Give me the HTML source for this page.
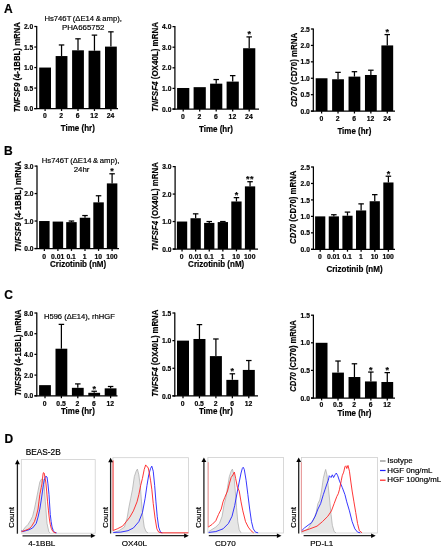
<!DOCTYPE html>
<html><head><meta charset="utf-8"><style>
html,body{margin:0;padding:0;background:#fff;}
svg{display:block;font-family:"Liberation Sans", Arial, sans-serif;}
text{stroke:#000;stroke-width:0.18px;paint-order:stroke;}
</style></head><body>
<svg width="444" height="550" viewBox="0 0 444 550">
<rect width="444" height="550" fill="#fff"/>
<text x="4.00" y="13.40" font-size="12" font-weight="bold" text-anchor="start">A</text>
<text x="83.20" y="20.90" font-size="7.7" text-anchor="middle" word-spacing="-0.6">Hs746T (ΔE14 &amp; amp),</text>
<text x="83.20" y="29.90" font-size="7.9" text-anchor="middle">PHA665752</text>
<rect x="39.20" y="67.55" width="11.80" height="41.05" fill="#000"/>
<rect x="55.65" y="56.06" width="11.80" height="52.54" fill="#000"/>
<line x1="61.55" y1="44.97" x2="61.55" y2="56.06" stroke="#000" stroke-width="1.25"/>
<line x1="58.80" y1="44.97" x2="64.30" y2="44.97" stroke="#000" stroke-width="1.25"/>
<rect x="72.10" y="50.31" width="11.80" height="58.29" fill="#000"/>
<line x1="78.00" y1="38.81" x2="78.00" y2="50.31" stroke="#000" stroke-width="1.25"/>
<line x1="75.25" y1="38.81" x2="80.75" y2="38.81" stroke="#000" stroke-width="1.25"/>
<rect x="88.55" y="50.72" width="11.80" height="57.88" fill="#000"/>
<line x1="94.45" y1="35.12" x2="94.45" y2="50.72" stroke="#000" stroke-width="1.25"/>
<line x1="91.70" y1="35.12" x2="97.20" y2="35.12" stroke="#000" stroke-width="1.25"/>
<rect x="105.00" y="46.61" width="11.80" height="61.99" fill="#000"/>
<line x1="110.90" y1="31.84" x2="110.90" y2="46.61" stroke="#000" stroke-width="1.25"/>
<line x1="108.15" y1="31.84" x2="113.65" y2="31.84" stroke="#000" stroke-width="1.25"/>
<line x1="36.70" y1="26.00" x2="36.70" y2="109.10" stroke="#000" stroke-width="1.25"/>
<line x1="34.30" y1="108.60" x2="118.00" y2="108.60" stroke="#000" stroke-width="1.25"/>
<line x1="34.30" y1="108.60" x2="36.70" y2="108.60" stroke="#000" stroke-width="1.25"/>
<text x="33.20" y="111.20" font-size="6.7" font-weight="bold" text-anchor="end">0.0</text>
<line x1="34.30" y1="88.07" x2="36.70" y2="88.07" stroke="#000" stroke-width="1.25"/>
<text x="33.20" y="90.67" font-size="6.7" font-weight="bold" text-anchor="end">0.5</text>
<line x1="34.30" y1="67.55" x2="36.70" y2="67.55" stroke="#000" stroke-width="1.25"/>
<text x="33.20" y="70.15" font-size="6.7" font-weight="bold" text-anchor="end">1.0</text>
<line x1="34.30" y1="47.02" x2="36.70" y2="47.02" stroke="#000" stroke-width="1.25"/>
<text x="33.20" y="49.62" font-size="6.7" font-weight="bold" text-anchor="end">1.5</text>
<line x1="34.30" y1="26.50" x2="36.70" y2="26.50" stroke="#000" stroke-width="1.25"/>
<text x="33.20" y="29.10" font-size="6.7" font-weight="bold" text-anchor="end">2.0</text>
<line x1="45.10" y1="108.60" x2="45.10" y2="111.00" stroke="#000" stroke-width="1.25"/>
<text x="44.80" y="118.10" font-size="6.8" font-weight="bold" text-anchor="middle">0</text>
<line x1="61.55" y1="108.60" x2="61.55" y2="111.00" stroke="#000" stroke-width="1.25"/>
<text x="61.25" y="118.10" font-size="6.8" font-weight="bold" text-anchor="middle">2</text>
<line x1="78.00" y1="108.60" x2="78.00" y2="111.00" stroke="#000" stroke-width="1.25"/>
<text x="77.70" y="118.10" font-size="6.8" font-weight="bold" text-anchor="middle">6</text>
<line x1="94.45" y1="108.60" x2="94.45" y2="111.00" stroke="#000" stroke-width="1.25"/>
<text x="94.15" y="118.10" font-size="6.8" font-weight="bold" text-anchor="middle">12</text>
<line x1="110.90" y1="108.60" x2="110.90" y2="111.00" stroke="#000" stroke-width="1.25"/>
<text x="110.60" y="118.10" font-size="6.8" font-weight="bold" text-anchor="middle">24</text>
<text x="77.80" y="130.70" font-size="8.4" font-weight="bold" text-anchor="middle" textLength="34.0" lengthAdjust="spacingAndGlyphs">Time (hr)</text>
<text transform="translate(19.70,67.15) rotate(-90)" font-size="8.3" font-weight="bold" text-anchor="middle" textLength="90.3" lengthAdjust="spacingAndGlyphs"><tspan font-style="italic">TNFSF9</tspan> (4-1BBL) mRNA</text>
<rect x="177.10" y="87.99" width="12.20" height="21.01" fill="#000"/>
<rect x="193.60" y="87.16" width="12.20" height="21.84" fill="#000"/>
<rect x="210.10" y="83.66" width="12.20" height="25.34" fill="#000"/>
<line x1="216.20" y1="79.54" x2="216.20" y2="83.66" stroke="#000" stroke-width="1.25"/>
<line x1="213.45" y1="79.54" x2="218.95" y2="79.54" stroke="#000" stroke-width="1.25"/>
<rect x="226.60" y="81.60" width="12.20" height="27.40" fill="#000"/>
<line x1="232.70" y1="75.63" x2="232.70" y2="81.60" stroke="#000" stroke-width="1.25"/>
<line x1="229.95" y1="75.63" x2="235.45" y2="75.63" stroke="#000" stroke-width="1.25"/>
<rect x="243.10" y="48.23" width="12.20" height="60.77" fill="#000"/>
<line x1="249.20" y1="36.90" x2="249.20" y2="48.23" stroke="#000" stroke-width="1.25"/>
<line x1="246.45" y1="36.90" x2="251.95" y2="36.90" stroke="#000" stroke-width="1.25"/>
<text x="249.20" y="37.40" font-size="9" font-weight="bold" text-anchor="middle">*</text>
<line x1="174.90" y1="26.10" x2="174.90" y2="109.50" stroke="#000" stroke-width="1.25"/>
<line x1="172.50" y1="109.00" x2="259.00" y2="109.00" stroke="#000" stroke-width="1.25"/>
<line x1="172.50" y1="109.00" x2="174.90" y2="109.00" stroke="#000" stroke-width="1.25"/>
<text x="171.40" y="111.60" font-size="6.7" font-weight="bold" text-anchor="end">0.0</text>
<line x1="172.50" y1="88.40" x2="174.90" y2="88.40" stroke="#000" stroke-width="1.25"/>
<text x="171.40" y="91.00" font-size="6.7" font-weight="bold" text-anchor="end">1.0</text>
<line x1="172.50" y1="67.80" x2="174.90" y2="67.80" stroke="#000" stroke-width="1.25"/>
<text x="171.40" y="70.40" font-size="6.7" font-weight="bold" text-anchor="end">2.0</text>
<line x1="172.50" y1="47.20" x2="174.90" y2="47.20" stroke="#000" stroke-width="1.25"/>
<text x="171.40" y="49.80" font-size="6.7" font-weight="bold" text-anchor="end">3.0</text>
<line x1="172.50" y1="26.60" x2="174.90" y2="26.60" stroke="#000" stroke-width="1.25"/>
<text x="171.40" y="29.20" font-size="6.7" font-weight="bold" text-anchor="end">4.0</text>
<line x1="183.20" y1="109.00" x2="183.20" y2="111.40" stroke="#000" stroke-width="1.25"/>
<text x="182.90" y="118.50" font-size="6.8" font-weight="bold" text-anchor="middle">0</text>
<line x1="199.70" y1="109.00" x2="199.70" y2="111.40" stroke="#000" stroke-width="1.25"/>
<text x="199.40" y="118.50" font-size="6.8" font-weight="bold" text-anchor="middle">2</text>
<line x1="216.20" y1="109.00" x2="216.20" y2="111.40" stroke="#000" stroke-width="1.25"/>
<text x="215.90" y="118.50" font-size="6.8" font-weight="bold" text-anchor="middle">6</text>
<line x1="232.70" y1="109.00" x2="232.70" y2="111.40" stroke="#000" stroke-width="1.25"/>
<text x="232.40" y="118.50" font-size="6.8" font-weight="bold" text-anchor="middle">12</text>
<line x1="249.20" y1="109.00" x2="249.20" y2="111.40" stroke="#000" stroke-width="1.25"/>
<text x="248.90" y="118.50" font-size="6.8" font-weight="bold" text-anchor="middle">24</text>
<text x="216.00" y="131.60" font-size="8.4" font-weight="bold" text-anchor="middle" textLength="34.0" lengthAdjust="spacingAndGlyphs">Time (hr)</text>
<text transform="translate(158.30,66.85) rotate(-90)" font-size="8.3" font-weight="bold" text-anchor="middle" textLength="89.7" lengthAdjust="spacingAndGlyphs"><tspan font-style="italic">TNFSF4</tspan> (OX40L) mRNA</text>
<rect x="315.70" y="78.26" width="11.80" height="32.84" fill="#000"/>
<rect x="332.12" y="79.25" width="11.80" height="31.85" fill="#000"/>
<line x1="338.02" y1="72.35" x2="338.02" y2="79.25" stroke="#000" stroke-width="1.25"/>
<line x1="335.27" y1="72.35" x2="340.77" y2="72.35" stroke="#000" stroke-width="1.25"/>
<rect x="348.54" y="76.62" width="11.80" height="34.48" fill="#000"/>
<line x1="354.44" y1="71.69" x2="354.44" y2="76.62" stroke="#000" stroke-width="1.25"/>
<line x1="351.69" y1="71.69" x2="357.19" y2="71.69" stroke="#000" stroke-width="1.25"/>
<rect x="364.96" y="74.98" width="11.80" height="36.12" fill="#000"/>
<line x1="370.86" y1="70.21" x2="370.86" y2="74.98" stroke="#000" stroke-width="1.25"/>
<line x1="368.11" y1="70.21" x2="373.61" y2="70.21" stroke="#000" stroke-width="1.25"/>
<rect x="381.38" y="45.42" width="11.80" height="65.68" fill="#000"/>
<line x1="387.28" y1="34.58" x2="387.28" y2="45.42" stroke="#000" stroke-width="1.25"/>
<line x1="384.53" y1="34.58" x2="390.03" y2="34.58" stroke="#000" stroke-width="1.25"/>
<text x="387.28" y="35.08" font-size="9" font-weight="bold" text-anchor="middle">*</text>
<line x1="313.30" y1="28.50" x2="313.30" y2="111.60" stroke="#000" stroke-width="1.25"/>
<line x1="310.90" y1="111.10" x2="395.00" y2="111.10" stroke="#000" stroke-width="1.25"/>
<line x1="310.90" y1="111.10" x2="313.30" y2="111.10" stroke="#000" stroke-width="1.25"/>
<text x="309.80" y="113.70" font-size="6.7" font-weight="bold" text-anchor="end">0.0</text>
<line x1="310.90" y1="94.68" x2="313.30" y2="94.68" stroke="#000" stroke-width="1.25"/>
<text x="309.80" y="97.28" font-size="6.7" font-weight="bold" text-anchor="end">0.5</text>
<line x1="310.90" y1="78.26" x2="313.30" y2="78.26" stroke="#000" stroke-width="1.25"/>
<text x="309.80" y="80.86" font-size="6.7" font-weight="bold" text-anchor="end">1.0</text>
<line x1="310.90" y1="61.84" x2="313.30" y2="61.84" stroke="#000" stroke-width="1.25"/>
<text x="309.80" y="64.44" font-size="6.7" font-weight="bold" text-anchor="end">1.5</text>
<line x1="310.90" y1="45.42" x2="313.30" y2="45.42" stroke="#000" stroke-width="1.25"/>
<text x="309.80" y="48.02" font-size="6.7" font-weight="bold" text-anchor="end">2.0</text>
<line x1="310.90" y1="29.00" x2="313.30" y2="29.00" stroke="#000" stroke-width="1.25"/>
<text x="309.80" y="31.60" font-size="6.7" font-weight="bold" text-anchor="end">2.5</text>
<line x1="321.60" y1="111.10" x2="321.60" y2="113.50" stroke="#000" stroke-width="1.25"/>
<text x="321.30" y="120.60" font-size="6.8" font-weight="bold" text-anchor="middle">0</text>
<line x1="338.02" y1="111.10" x2="338.02" y2="113.50" stroke="#000" stroke-width="1.25"/>
<text x="337.72" y="120.60" font-size="6.8" font-weight="bold" text-anchor="middle">2</text>
<line x1="354.44" y1="111.10" x2="354.44" y2="113.50" stroke="#000" stroke-width="1.25"/>
<text x="354.14" y="120.60" font-size="6.8" font-weight="bold" text-anchor="middle">6</text>
<line x1="370.86" y1="111.10" x2="370.86" y2="113.50" stroke="#000" stroke-width="1.25"/>
<text x="370.56" y="120.60" font-size="6.8" font-weight="bold" text-anchor="middle">12</text>
<line x1="387.28" y1="111.10" x2="387.28" y2="113.50" stroke="#000" stroke-width="1.25"/>
<text x="386.98" y="120.60" font-size="6.8" font-weight="bold" text-anchor="middle">24</text>
<text x="354.40" y="133.50" font-size="8.4" font-weight="bold" text-anchor="middle" textLength="34.0" lengthAdjust="spacingAndGlyphs">Time (hr)</text>
<text transform="translate(296.60,70.00) rotate(-90)" font-size="8.3" font-weight="bold" text-anchor="middle" textLength="74.2" lengthAdjust="spacingAndGlyphs"><tspan font-style="italic">CD70</tspan> (CD70) mRNA</text>
<text x="4.00" y="154.70" font-size="12" font-weight="bold" text-anchor="start">B</text>
<text x="80.60" y="163.20" font-size="7.7" text-anchor="middle" word-spacing="-0.6">Hs746T (ΔE14 &amp; amp),</text>
<text x="81.60" y="172.30" font-size="7.9" text-anchor="middle">24hr</text>
<rect x="39.10" y="221.03" width="10.50" height="27.47" fill="#000"/>
<rect x="52.65" y="221.58" width="10.50" height="26.92" fill="#000"/>
<rect x="66.20" y="222.13" width="10.50" height="26.37" fill="#000"/>
<line x1="71.45" y1="221.03" x2="71.45" y2="222.13" stroke="#000" stroke-width="1.25"/>
<line x1="68.70" y1="221.03" x2="74.20" y2="221.03" stroke="#000" stroke-width="1.25"/>
<rect x="79.75" y="217.74" width="10.50" height="30.76" fill="#000"/>
<line x1="85.00" y1="215.54" x2="85.00" y2="217.74" stroke="#000" stroke-width="1.25"/>
<line x1="82.25" y1="215.54" x2="87.75" y2="215.54" stroke="#000" stroke-width="1.25"/>
<rect x="93.30" y="202.36" width="10.50" height="46.14" fill="#000"/>
<line x1="98.55" y1="195.76" x2="98.55" y2="202.36" stroke="#000" stroke-width="1.25"/>
<line x1="95.80" y1="195.76" x2="101.30" y2="195.76" stroke="#000" stroke-width="1.25"/>
<rect x="106.85" y="183.40" width="10.50" height="65.10" fill="#000"/>
<line x1="112.10" y1="173.79" x2="112.10" y2="183.40" stroke="#000" stroke-width="1.25"/>
<line x1="109.35" y1="173.79" x2="114.85" y2="173.79" stroke="#000" stroke-width="1.25"/>
<text x="112.10" y="174.29" font-size="9" font-weight="bold" text-anchor="middle">*</text>
<line x1="37.00" y1="165.60" x2="37.00" y2="249.00" stroke="#000" stroke-width="1.25"/>
<line x1="34.60" y1="248.50" x2="119.00" y2="248.50" stroke="#000" stroke-width="1.25"/>
<line x1="34.60" y1="248.50" x2="37.00" y2="248.50" stroke="#000" stroke-width="1.25"/>
<text x="33.50" y="251.10" font-size="6.7" font-weight="bold" text-anchor="end">0.0</text>
<line x1="34.60" y1="221.03" x2="37.00" y2="221.03" stroke="#000" stroke-width="1.25"/>
<text x="33.50" y="223.63" font-size="6.7" font-weight="bold" text-anchor="end">1.0</text>
<line x1="34.60" y1="193.57" x2="37.00" y2="193.57" stroke="#000" stroke-width="1.25"/>
<text x="33.50" y="196.17" font-size="6.7" font-weight="bold" text-anchor="end">2.0</text>
<line x1="34.60" y1="166.10" x2="37.00" y2="166.10" stroke="#000" stroke-width="1.25"/>
<text x="33.50" y="168.70" font-size="6.7" font-weight="bold" text-anchor="end">3.0</text>
<line x1="44.35" y1="248.50" x2="44.35" y2="250.90" stroke="#000" stroke-width="1.25"/>
<text x="44.05" y="258.70" font-size="6.8" font-weight="bold" text-anchor="middle">0</text>
<line x1="57.90" y1="248.50" x2="57.90" y2="250.90" stroke="#000" stroke-width="1.25"/>
<text x="57.60" y="258.70" font-size="6.8" font-weight="bold" text-anchor="middle">0.01</text>
<line x1="71.45" y1="248.50" x2="71.45" y2="250.90" stroke="#000" stroke-width="1.25"/>
<text x="71.15" y="258.70" font-size="6.8" font-weight="bold" text-anchor="middle">0.1</text>
<line x1="85.00" y1="248.50" x2="85.00" y2="250.90" stroke="#000" stroke-width="1.25"/>
<text x="84.70" y="258.70" font-size="6.8" font-weight="bold" text-anchor="middle">1</text>
<line x1="98.55" y1="248.50" x2="98.55" y2="250.90" stroke="#000" stroke-width="1.25"/>
<text x="98.25" y="258.70" font-size="6.8" font-weight="bold" text-anchor="middle">10</text>
<line x1="112.10" y1="248.50" x2="112.10" y2="250.90" stroke="#000" stroke-width="1.25"/>
<text x="111.80" y="258.70" font-size="6.8" font-weight="bold" text-anchor="middle">100</text>
<text x="78.10" y="266.50" font-size="8.4" font-weight="bold" text-anchor="middle" textLength="56.2" lengthAdjust="spacingAndGlyphs">Crizotinib (nM)</text>
<text transform="translate(21.00,206.40) rotate(-90)" font-size="8.3" font-weight="bold" text-anchor="middle" textLength="90.6" lengthAdjust="spacingAndGlyphs"><tspan font-style="italic">TNFSF9</tspan> (4-1BBL) mRNA</text>
<rect x="176.90" y="221.53" width="10.30" height="27.47" fill="#000"/>
<rect x="190.50" y="218.24" width="10.30" height="30.76" fill="#000"/>
<line x1="195.65" y1="213.84" x2="195.65" y2="218.24" stroke="#000" stroke-width="1.25"/>
<line x1="192.90" y1="213.84" x2="198.40" y2="213.84" stroke="#000" stroke-width="1.25"/>
<rect x="204.10" y="222.91" width="10.30" height="26.09" fill="#000"/>
<line x1="209.25" y1="221.53" x2="209.25" y2="222.91" stroke="#000" stroke-width="1.25"/>
<line x1="206.50" y1="221.53" x2="212.00" y2="221.53" stroke="#000" stroke-width="1.25"/>
<rect x="217.70" y="222.08" width="10.30" height="26.92" fill="#000"/>
<line x1="222.85" y1="221.53" x2="222.85" y2="222.08" stroke="#000" stroke-width="1.25"/>
<line x1="220.10" y1="221.53" x2="225.60" y2="221.53" stroke="#000" stroke-width="1.25"/>
<rect x="231.30" y="201.48" width="10.30" height="47.52" fill="#000"/>
<line x1="236.45" y1="197.64" x2="236.45" y2="201.48" stroke="#000" stroke-width="1.25"/>
<line x1="233.70" y1="197.64" x2="239.20" y2="197.64" stroke="#000" stroke-width="1.25"/>
<text x="236.45" y="198.14" font-size="9" font-weight="bold" text-anchor="middle">*</text>
<rect x="244.90" y="186.38" width="10.30" height="62.62" fill="#000"/>
<line x1="250.05" y1="181.71" x2="250.05" y2="186.38" stroke="#000" stroke-width="1.25"/>
<line x1="247.30" y1="181.71" x2="252.80" y2="181.71" stroke="#000" stroke-width="1.25"/>
<text x="250.05" y="182.21" font-size="9" font-weight="bold" text-anchor="middle" letter-spacing="0.6">**</text>
<line x1="175.10" y1="166.10" x2="175.10" y2="249.50" stroke="#000" stroke-width="1.25"/>
<line x1="172.70" y1="249.00" x2="258.00" y2="249.00" stroke="#000" stroke-width="1.25"/>
<line x1="172.70" y1="249.00" x2="175.10" y2="249.00" stroke="#000" stroke-width="1.25"/>
<text x="171.60" y="251.60" font-size="6.7" font-weight="bold" text-anchor="end">0.0</text>
<line x1="172.70" y1="221.53" x2="175.10" y2="221.53" stroke="#000" stroke-width="1.25"/>
<text x="171.60" y="224.13" font-size="6.7" font-weight="bold" text-anchor="end">1.0</text>
<line x1="172.70" y1="194.07" x2="175.10" y2="194.07" stroke="#000" stroke-width="1.25"/>
<text x="171.60" y="196.67" font-size="6.7" font-weight="bold" text-anchor="end">2.0</text>
<line x1="172.70" y1="166.60" x2="175.10" y2="166.60" stroke="#000" stroke-width="1.25"/>
<text x="171.60" y="169.20" font-size="6.7" font-weight="bold" text-anchor="end">3.0</text>
<line x1="182.05" y1="249.00" x2="182.05" y2="251.40" stroke="#000" stroke-width="1.25"/>
<text x="181.75" y="258.70" font-size="6.8" font-weight="bold" text-anchor="middle">0</text>
<line x1="195.65" y1="249.00" x2="195.65" y2="251.40" stroke="#000" stroke-width="1.25"/>
<text x="195.35" y="258.70" font-size="6.8" font-weight="bold" text-anchor="middle">0.01</text>
<line x1="209.25" y1="249.00" x2="209.25" y2="251.40" stroke="#000" stroke-width="1.25"/>
<text x="208.95" y="258.70" font-size="6.8" font-weight="bold" text-anchor="middle">0.1</text>
<line x1="222.85" y1="249.00" x2="222.85" y2="251.40" stroke="#000" stroke-width="1.25"/>
<text x="222.55" y="258.70" font-size="6.8" font-weight="bold" text-anchor="middle">1</text>
<line x1="236.45" y1="249.00" x2="236.45" y2="251.40" stroke="#000" stroke-width="1.25"/>
<text x="236.15" y="258.70" font-size="6.8" font-weight="bold" text-anchor="middle">10</text>
<line x1="250.05" y1="249.00" x2="250.05" y2="251.40" stroke="#000" stroke-width="1.25"/>
<text x="249.75" y="258.70" font-size="6.8" font-weight="bold" text-anchor="middle">100</text>
<text x="216.20" y="266.70" font-size="8.4" font-weight="bold" text-anchor="middle" textLength="56.2" lengthAdjust="spacingAndGlyphs">Crizotinib (nM)</text>
<text transform="translate(158.30,206.40) rotate(-90)" font-size="8.3" font-weight="bold" text-anchor="middle" textLength="88.8" lengthAdjust="spacingAndGlyphs"><tspan font-style="italic">TNFSF4</tspan> (OX40L) mRNA</text>
<rect x="315.10" y="216.38" width="10.20" height="32.92" fill="#000"/>
<rect x="328.74" y="216.38" width="10.20" height="32.92" fill="#000"/>
<line x1="333.84" y1="214.73" x2="333.84" y2="216.38" stroke="#000" stroke-width="1.25"/>
<line x1="331.09" y1="214.73" x2="336.59" y2="214.73" stroke="#000" stroke-width="1.25"/>
<rect x="342.38" y="215.72" width="10.20" height="33.58" fill="#000"/>
<line x1="347.48" y1="212.10" x2="347.48" y2="215.72" stroke="#000" stroke-width="1.25"/>
<line x1="344.73" y1="212.10" x2="350.23" y2="212.10" stroke="#000" stroke-width="1.25"/>
<rect x="356.02" y="210.45" width="10.20" height="38.85" fill="#000"/>
<line x1="361.12" y1="203.87" x2="361.12" y2="210.45" stroke="#000" stroke-width="1.25"/>
<line x1="358.37" y1="203.87" x2="363.87" y2="203.87" stroke="#000" stroke-width="1.25"/>
<rect x="369.66" y="201.24" width="10.20" height="48.06" fill="#000"/>
<line x1="374.76" y1="194.65" x2="374.76" y2="201.24" stroke="#000" stroke-width="1.25"/>
<line x1="372.01" y1="194.65" x2="377.51" y2="194.65" stroke="#000" stroke-width="1.25"/>
<rect x="383.30" y="182.47" width="10.20" height="66.83" fill="#000"/>
<line x1="388.40" y1="176.22" x2="388.40" y2="182.47" stroke="#000" stroke-width="1.25"/>
<line x1="385.65" y1="176.22" x2="391.15" y2="176.22" stroke="#000" stroke-width="1.25"/>
<text x="388.40" y="176.72" font-size="9" font-weight="bold" text-anchor="middle">*</text>
<line x1="313.40" y1="166.50" x2="313.40" y2="249.80" stroke="#000" stroke-width="1.25"/>
<line x1="311.00" y1="249.30" x2="395.00" y2="249.30" stroke="#000" stroke-width="1.25"/>
<line x1="311.00" y1="249.30" x2="313.40" y2="249.30" stroke="#000" stroke-width="1.25"/>
<text x="309.90" y="251.90" font-size="6.7" font-weight="bold" text-anchor="end">0.0</text>
<line x1="311.00" y1="232.84" x2="313.40" y2="232.84" stroke="#000" stroke-width="1.25"/>
<text x="309.90" y="235.44" font-size="6.7" font-weight="bold" text-anchor="end">0.5</text>
<line x1="311.00" y1="216.38" x2="313.40" y2="216.38" stroke="#000" stroke-width="1.25"/>
<text x="309.90" y="218.98" font-size="6.7" font-weight="bold" text-anchor="end">1.0</text>
<line x1="311.00" y1="199.92" x2="313.40" y2="199.92" stroke="#000" stroke-width="1.25"/>
<text x="309.90" y="202.52" font-size="6.7" font-weight="bold" text-anchor="end">1.5</text>
<line x1="311.00" y1="183.46" x2="313.40" y2="183.46" stroke="#000" stroke-width="1.25"/>
<text x="309.90" y="186.06" font-size="6.7" font-weight="bold" text-anchor="end">2.0</text>
<line x1="311.00" y1="167.00" x2="313.40" y2="167.00" stroke="#000" stroke-width="1.25"/>
<text x="309.90" y="169.60" font-size="6.7" font-weight="bold" text-anchor="end">2.5</text>
<line x1="320.20" y1="249.30" x2="320.20" y2="251.70" stroke="#000" stroke-width="1.25"/>
<text x="319.90" y="259.10" font-size="6.8" font-weight="bold" text-anchor="middle">0</text>
<line x1="333.84" y1="249.30" x2="333.84" y2="251.70" stroke="#000" stroke-width="1.25"/>
<text x="333.54" y="259.10" font-size="6.8" font-weight="bold" text-anchor="middle">0.01</text>
<line x1="347.48" y1="249.30" x2="347.48" y2="251.70" stroke="#000" stroke-width="1.25"/>
<text x="347.18" y="259.10" font-size="6.8" font-weight="bold" text-anchor="middle">0.1</text>
<line x1="361.12" y1="249.30" x2="361.12" y2="251.70" stroke="#000" stroke-width="1.25"/>
<text x="360.82" y="259.10" font-size="6.8" font-weight="bold" text-anchor="middle">1</text>
<line x1="374.76" y1="249.30" x2="374.76" y2="251.70" stroke="#000" stroke-width="1.25"/>
<text x="374.46" y="259.10" font-size="6.8" font-weight="bold" text-anchor="middle">10</text>
<line x1="388.40" y1="249.30" x2="388.40" y2="251.70" stroke="#000" stroke-width="1.25"/>
<text x="388.10" y="259.10" font-size="6.8" font-weight="bold" text-anchor="middle">100</text>
<text x="354.50" y="271.60" font-size="8.4" font-weight="bold" text-anchor="middle" textLength="56.2" lengthAdjust="spacingAndGlyphs">Crizotinib (nM)</text>
<text transform="translate(296.30,207.25) rotate(-90)" font-size="8.3" font-weight="bold" text-anchor="middle" textLength="73.3" lengthAdjust="spacingAndGlyphs"><tspan font-style="italic">CD70</tspan> (CD70) mRNA</text>
<text x="4.20" y="299.10" font-size="12" font-weight="bold" text-anchor="start">C</text>
<text x="79.40" y="319.30" font-size="7.6" text-anchor="middle">H596 (ΔE14), rhHGF</text>
<rect x="39.10" y="385.14" width="11.80" height="10.66" fill="#000"/>
<rect x="55.50" y="348.71" width="11.80" height="47.09" fill="#000"/>
<line x1="61.40" y1="324.38" x2="61.40" y2="348.71" stroke="#000" stroke-width="1.25"/>
<line x1="58.65" y1="324.38" x2="64.15" y2="324.38" stroke="#000" stroke-width="1.25"/>
<rect x="71.90" y="387.83" width="11.80" height="7.97" fill="#000"/>
<line x1="77.80" y1="383.90" x2="77.80" y2="387.83" stroke="#000" stroke-width="1.25"/>
<line x1="75.05" y1="383.90" x2="80.55" y2="383.90" stroke="#000" stroke-width="1.25"/>
<rect x="88.30" y="392.80" width="11.80" height="3.00" fill="#000"/>
<line x1="94.20" y1="391.25" x2="94.20" y2="392.80" stroke="#000" stroke-width="1.25"/>
<line x1="91.45" y1="391.25" x2="96.95" y2="391.25" stroke="#000" stroke-width="1.25"/>
<text x="94.20" y="391.75" font-size="9" font-weight="bold" text-anchor="middle">*</text>
<rect x="104.70" y="388.35" width="11.80" height="7.45" fill="#000"/>
<line x1="110.60" y1="386.49" x2="110.60" y2="388.35" stroke="#000" stroke-width="1.25"/>
<line x1="107.85" y1="386.49" x2="113.35" y2="386.49" stroke="#000" stroke-width="1.25"/>
<line x1="36.80" y1="312.50" x2="36.80" y2="396.30" stroke="#000" stroke-width="1.25"/>
<line x1="34.40" y1="395.80" x2="117.50" y2="395.80" stroke="#000" stroke-width="1.25"/>
<line x1="34.40" y1="395.80" x2="36.80" y2="395.80" stroke="#000" stroke-width="1.25"/>
<text x="33.30" y="398.40" font-size="6.7" font-weight="bold" text-anchor="end">0.0</text>
<line x1="34.40" y1="375.10" x2="36.80" y2="375.10" stroke="#000" stroke-width="1.25"/>
<text x="33.30" y="377.70" font-size="6.7" font-weight="bold" text-anchor="end">2.0</text>
<line x1="34.40" y1="354.40" x2="36.80" y2="354.40" stroke="#000" stroke-width="1.25"/>
<text x="33.30" y="357.00" font-size="6.7" font-weight="bold" text-anchor="end">4.0</text>
<line x1="34.40" y1="333.70" x2="36.80" y2="333.70" stroke="#000" stroke-width="1.25"/>
<text x="33.30" y="336.30" font-size="6.7" font-weight="bold" text-anchor="end">6.0</text>
<line x1="34.40" y1="313.00" x2="36.80" y2="313.00" stroke="#000" stroke-width="1.25"/>
<text x="33.30" y="315.60" font-size="6.7" font-weight="bold" text-anchor="end">8.0</text>
<line x1="45.00" y1="395.80" x2="45.00" y2="398.20" stroke="#000" stroke-width="1.25"/>
<text x="44.70" y="406.00" font-size="6.8" font-weight="bold" text-anchor="middle">0</text>
<line x1="61.40" y1="395.80" x2="61.40" y2="398.20" stroke="#000" stroke-width="1.25"/>
<text x="61.10" y="406.00" font-size="6.8" font-weight="bold" text-anchor="middle">0.5</text>
<line x1="77.80" y1="395.80" x2="77.80" y2="398.20" stroke="#000" stroke-width="1.25"/>
<text x="77.50" y="406.00" font-size="6.8" font-weight="bold" text-anchor="middle">2</text>
<line x1="94.20" y1="395.80" x2="94.20" y2="398.20" stroke="#000" stroke-width="1.25"/>
<text x="93.90" y="406.00" font-size="6.8" font-weight="bold" text-anchor="middle">6</text>
<line x1="110.60" y1="395.80" x2="110.60" y2="398.20" stroke="#000" stroke-width="1.25"/>
<text x="110.30" y="406.00" font-size="6.8" font-weight="bold" text-anchor="middle">12</text>
<text x="77.90" y="413.80" font-size="8.4" font-weight="bold" text-anchor="middle" textLength="34.0" lengthAdjust="spacingAndGlyphs">Time (hr)</text>
<text transform="translate(21.10,352.75) rotate(-90)" font-size="8.3" font-weight="bold" text-anchor="middle" textLength="86.1" lengthAdjust="spacingAndGlyphs"><tspan font-style="italic">TNFSF9</tspan> (4-1BBL) mRNA</text>
<rect x="177.00" y="340.63" width="12.00" height="55.27" fill="#000"/>
<rect x="193.45" y="338.98" width="12.00" height="56.92" fill="#000"/>
<line x1="199.45" y1="324.61" x2="199.45" y2="338.98" stroke="#000" stroke-width="1.25"/>
<line x1="196.70" y1="324.61" x2="202.20" y2="324.61" stroke="#000" stroke-width="1.25"/>
<rect x="209.90" y="356.11" width="12.00" height="39.79" fill="#000"/>
<line x1="215.90" y1="338.98" x2="215.90" y2="356.11" stroke="#000" stroke-width="1.25"/>
<line x1="213.15" y1="338.98" x2="218.65" y2="338.98" stroke="#000" stroke-width="1.25"/>
<rect x="226.35" y="379.87" width="12.00" height="16.03" fill="#000"/>
<line x1="232.35" y1="373.79" x2="232.35" y2="379.87" stroke="#000" stroke-width="1.25"/>
<line x1="229.60" y1="373.79" x2="235.10" y2="373.79" stroke="#000" stroke-width="1.25"/>
<text x="232.35" y="374.29" font-size="9" font-weight="bold" text-anchor="middle">*</text>
<rect x="242.80" y="369.92" width="12.00" height="25.98" fill="#000"/>
<line x1="248.80" y1="360.53" x2="248.80" y2="369.92" stroke="#000" stroke-width="1.25"/>
<line x1="246.05" y1="360.53" x2="251.55" y2="360.53" stroke="#000" stroke-width="1.25"/>
<line x1="174.80" y1="312.50" x2="174.80" y2="396.40" stroke="#000" stroke-width="1.25"/>
<line x1="172.40" y1="395.90" x2="258.00" y2="395.90" stroke="#000" stroke-width="1.25"/>
<line x1="172.40" y1="395.90" x2="174.80" y2="395.90" stroke="#000" stroke-width="1.25"/>
<text x="171.30" y="398.50" font-size="6.7" font-weight="bold" text-anchor="end">0.0</text>
<line x1="172.40" y1="368.27" x2="174.80" y2="368.27" stroke="#000" stroke-width="1.25"/>
<text x="171.30" y="370.87" font-size="6.7" font-weight="bold" text-anchor="end">0.5</text>
<line x1="172.40" y1="340.63" x2="174.80" y2="340.63" stroke="#000" stroke-width="1.25"/>
<text x="171.30" y="343.23" font-size="6.7" font-weight="bold" text-anchor="end">1.0</text>
<line x1="172.40" y1="313.00" x2="174.80" y2="313.00" stroke="#000" stroke-width="1.25"/>
<text x="171.30" y="315.60" font-size="6.7" font-weight="bold" text-anchor="end">1.5</text>
<line x1="183.00" y1="395.90" x2="183.00" y2="398.30" stroke="#000" stroke-width="1.25"/>
<text x="182.70" y="405.70" font-size="6.8" font-weight="bold" text-anchor="middle">0</text>
<line x1="199.45" y1="395.90" x2="199.45" y2="398.30" stroke="#000" stroke-width="1.25"/>
<text x="199.15" y="405.70" font-size="6.8" font-weight="bold" text-anchor="middle">0.5</text>
<line x1="215.90" y1="395.90" x2="215.90" y2="398.30" stroke="#000" stroke-width="1.25"/>
<text x="215.60" y="405.70" font-size="6.8" font-weight="bold" text-anchor="middle">2</text>
<line x1="232.35" y1="395.90" x2="232.35" y2="398.30" stroke="#000" stroke-width="1.25"/>
<text x="232.05" y="405.70" font-size="6.8" font-weight="bold" text-anchor="middle">6</text>
<line x1="248.80" y1="395.90" x2="248.80" y2="398.30" stroke="#000" stroke-width="1.25"/>
<text x="248.50" y="405.70" font-size="6.8" font-weight="bold" text-anchor="middle">12</text>
<text x="215.90" y="413.60" font-size="8.4" font-weight="bold" text-anchor="middle" textLength="34.0" lengthAdjust="spacingAndGlyphs">Time (hr)</text>
<text transform="translate(158.30,353.20) rotate(-90)" font-size="8.3" font-weight="bold" text-anchor="middle" textLength="87.0" lengthAdjust="spacingAndGlyphs"><tspan font-style="italic">TNFSF4</tspan> (OX40L) mRNA</text>
<rect x="315.70" y="342.80" width="11.80" height="55.20" fill="#000"/>
<rect x="332.12" y="372.61" width="11.80" height="25.39" fill="#000"/>
<line x1="338.02" y1="361.02" x2="338.02" y2="372.61" stroke="#000" stroke-width="1.25"/>
<line x1="335.27" y1="361.02" x2="340.77" y2="361.02" stroke="#000" stroke-width="1.25"/>
<rect x="348.54" y="377.02" width="11.80" height="20.98" fill="#000"/>
<line x1="354.44" y1="363.78" x2="354.44" y2="377.02" stroke="#000" stroke-width="1.25"/>
<line x1="351.69" y1="363.78" x2="357.19" y2="363.78" stroke="#000" stroke-width="1.25"/>
<rect x="364.96" y="381.44" width="11.80" height="16.56" fill="#000"/>
<line x1="370.86" y1="372.06" x2="370.86" y2="381.44" stroke="#000" stroke-width="1.25"/>
<line x1="368.11" y1="372.06" x2="373.61" y2="372.06" stroke="#000" stroke-width="1.25"/>
<text x="370.86" y="372.56" font-size="9" font-weight="bold" text-anchor="middle">*</text>
<rect x="381.38" y="381.99" width="11.80" height="16.01" fill="#000"/>
<line x1="387.28" y1="372.61" x2="387.28" y2="381.99" stroke="#000" stroke-width="1.25"/>
<line x1="384.53" y1="372.61" x2="390.03" y2="372.61" stroke="#000" stroke-width="1.25"/>
<text x="387.28" y="373.11" font-size="9" font-weight="bold" text-anchor="middle">*</text>
<line x1="313.40" y1="314.70" x2="313.40" y2="398.50" stroke="#000" stroke-width="1.25"/>
<line x1="311.00" y1="398.00" x2="395.00" y2="398.00" stroke="#000" stroke-width="1.25"/>
<line x1="311.00" y1="398.00" x2="313.40" y2="398.00" stroke="#000" stroke-width="1.25"/>
<text x="309.90" y="400.60" font-size="6.7" font-weight="bold" text-anchor="end">0.0</text>
<line x1="311.00" y1="370.40" x2="313.40" y2="370.40" stroke="#000" stroke-width="1.25"/>
<text x="309.90" y="373.00" font-size="6.7" font-weight="bold" text-anchor="end">0.5</text>
<line x1="311.00" y1="342.80" x2="313.40" y2="342.80" stroke="#000" stroke-width="1.25"/>
<text x="309.90" y="345.40" font-size="6.7" font-weight="bold" text-anchor="end">1.0</text>
<line x1="311.00" y1="315.20" x2="313.40" y2="315.20" stroke="#000" stroke-width="1.25"/>
<text x="309.90" y="317.80" font-size="6.7" font-weight="bold" text-anchor="end">1.5</text>
<line x1="321.60" y1="398.00" x2="321.60" y2="400.40" stroke="#000" stroke-width="1.25"/>
<text x="321.30" y="407.40" font-size="6.8" font-weight="bold" text-anchor="middle">0</text>
<line x1="338.02" y1="398.00" x2="338.02" y2="400.40" stroke="#000" stroke-width="1.25"/>
<text x="337.72" y="407.40" font-size="6.8" font-weight="bold" text-anchor="middle">0.5</text>
<line x1="354.44" y1="398.00" x2="354.44" y2="400.40" stroke="#000" stroke-width="1.25"/>
<text x="354.14" y="407.40" font-size="6.8" font-weight="bold" text-anchor="middle">2</text>
<line x1="370.86" y1="398.00" x2="370.86" y2="400.40" stroke="#000" stroke-width="1.25"/>
<text x="370.56" y="407.40" font-size="6.8" font-weight="bold" text-anchor="middle">6</text>
<line x1="387.28" y1="398.00" x2="387.28" y2="400.40" stroke="#000" stroke-width="1.25"/>
<text x="386.98" y="407.40" font-size="6.8" font-weight="bold" text-anchor="middle">12</text>
<text x="354.50" y="416.10" font-size="8.4" font-weight="bold" text-anchor="middle" textLength="34.0" lengthAdjust="spacingAndGlyphs">Time (hr)</text>
<text transform="translate(296.30,355.95) rotate(-90)" font-size="8.3" font-weight="bold" text-anchor="middle" textLength="71.5" lengthAdjust="spacingAndGlyphs"><tspan font-style="italic">CD70</tspan> (CD70) mRNA</text>
<text x="4.50" y="443.30" font-size="12" font-weight="bold" text-anchor="start">D</text>
<text x="43.20" y="455.00" font-size="8.3" text-anchor="middle">BEAS-2B</text>
<rect x="21.30" y="459.60" width="73.90" height="73.60" fill="none" stroke="#cfcfcf" stroke-width="0.8"/>
<path d="M21.80,531.58 L25.41,527.07 L28.11,524.37 L30.81,519.86 L32.61,516.26 L34.41,509.05 L36.22,500.05 L38.02,491.04 L39.82,482.03 L41.26,479.32 L42.52,478.42 L43.78,480.23 L45.23,500.05 L47.03,523.47 L48.83,531.58 L49.73,532.84 L49.73,533.20 L21.80,533.20 Z" fill="#e6e6e6" stroke="none"/>
<path d="M21.80,531.58 L25.41,527.07 L28.11,524.37 L30.81,519.86 L32.61,516.26 L34.41,509.05 L36.22,500.05 L38.02,491.04 L39.82,482.03 L41.26,479.32 L42.52,478.42 L43.78,480.23 L45.23,500.05 L47.03,523.47 L48.83,531.58 L49.73,532.84" fill="none" stroke="#a8a8a8" stroke-width="0.7"/>
<path d="M21.44,530.68 L22.70,531.58 L29.01,529.77 L32.61,527.97 L36.22,523.47 L38.02,517.16 L39.82,509.05 L41.26,500.05 L42.52,491.04 L43.42,484.73 L44.32,480.23 L45.23,476.98 L45.77,476.26 L47.03,476.98 L47.93,483.83 L49.01,494.64 L50.27,514.46 L51.17,521.67 L52.07,527.07 L53.33,530.68 L54.77,532.48 L56.58,532.84" fill="none" stroke="#2020ff" stroke-width="0.9"/>
<path d="M21.44,531.58 L25.41,530.32 L29.01,528.87 L31.71,526.17 L34.41,521.67 L36.22,516.26 L38.02,509.05 L38.92,501.85 L39.82,494.64 L41.26,487.43 L41.98,483.83 L42.52,478.42 L43.06,473.92 L43.42,472.66 L44.14,473.02 L45.77,482.03 L46.67,491.04 L47.57,501.85 L48.47,510.86 L49.37,518.96 L50.27,524.37 L51.35,528.51 L52.79,531.40 L54.23,532.48 L56.04,532.84" fill="none" stroke="#ff2020" stroke-width="0.9"/>
<line x1="17.40" y1="533.70" x2="17.40" y2="463.10" stroke="#222" stroke-width="1.3"/>
<path d="M15.00,464.20 L17.40,459.60 L19.80,464.20 Z" fill="#000"/>
<line x1="22.50" y1="535.80" x2="92.00" y2="535.80" stroke="#222" stroke-width="1.3"/>
<path d="M90.90,533.50 L95.50,535.80 L90.90,538.10 Z" fill="#000"/>
<text x="28.30" y="546.10" font-size="8.1" text-anchor="start">4-1BBL</text>
<text transform="translate(14.30,528.0) rotate(-90)" font-size="7.9">Count</text>
<rect x="112.90" y="457.70" width="75.50" height="75.30" fill="none" stroke="#cfcfcf" stroke-width="0.8"/>
<path d="M113.60,532.48 L119.01,530.68 L124.41,527.07 L127.12,518.06 L128.92,507.25 L130.72,498.24 L132.52,489.23 L134.32,476.62 L136.13,471.22 L137.39,469.05 L138.83,474.82 L140.27,485.63 L141.53,501.85 L142.79,516.26 L144.23,527.07 L146.04,531.58 L147.84,532.84 L147.84,533.00 L113.60,533.00 Z" fill="#e6e6e6" stroke="none"/>
<path d="M113.60,532.48 L119.01,530.68 L124.41,527.07 L127.12,518.06 L128.92,507.25 L130.72,498.24 L132.52,489.23 L134.32,476.62 L136.13,471.22 L137.39,469.05 L138.83,474.82 L140.27,485.63 L141.53,501.85 L142.79,516.26 L144.23,527.07 L146.04,531.58 L147.84,532.84" fill="none" stroke="#a8a8a8" stroke-width="0.7"/>
<path d="M113.24,532.48 L120.81,532.12 L128.02,530.68 L133.42,527.97 L138.83,521.67 L142.43,512.66 L145.14,498.24 L146.94,485.63 L148.74,474.82 L150.54,468.51 L151.80,466.17 L153.24,471.22 L154.68,485.63 L155.95,501.85 L157.21,516.26 L158.65,527.07 L160.45,532.12 L162.25,532.84" fill="none" stroke="#2020ff" stroke-width="0.9"/>
<path d="M113.06,460.41 L113.06,530.68 L113.60,530.32 L117.21,528.87 L122.61,526.17 L126.22,521.67 L129.82,517.16 L133.42,510.86 L137.03,501.85 L138.83,494.64 L140.63,485.63 L142.43,478.42 L144.23,469.41 L145.68,464.91 L146.94,466.71 L148.20,467.61 L149.28,473.02 L150.54,480.23 L151.80,489.23 L153.24,503.65 L155.05,518.06 L156.85,528.87 L158.65,532.12 L161.35,532.84 L188.38,532.84" fill="none" stroke="#ff2020" stroke-width="0.9"/>
<line x1="110.60" y1="533.50" x2="110.60" y2="461.20" stroke="#222" stroke-width="1.3"/>
<path d="M108.20,462.30 L110.60,457.70 L113.00,462.30 Z" fill="#000"/>
<line x1="115.50" y1="535.70" x2="185.30" y2="535.70" stroke="#222" stroke-width="1.3"/>
<path d="M184.20,533.40 L188.80,535.70 L184.20,538.00 Z" fill="#000"/>
<text x="121.80" y="546.10" font-size="8.1" text-anchor="start">OX40L</text>
<text transform="translate(108.30,528.0) rotate(-90)" font-size="7.9">Count</text>
<rect x="207.90" y="457.50" width="75.60" height="75.50" fill="none" stroke="#cfcfcf" stroke-width="0.8"/>
<path d="M208.60,531.58 L215.81,527.07 L219.41,523.47 L222.12,516.26 L223.92,505.45 L225.72,498.24 L227.52,487.43 L229.32,476.62 L231.13,471.22 L232.39,469.05 L233.83,474.82 L235.27,491.04 L236.53,507.25 L237.79,521.67 L239.23,529.77 L241.04,532.84 L241.04,533.00 L208.60,533.00 Z" fill="#e6e6e6" stroke="none"/>
<path d="M208.60,531.58 L215.81,527.07 L219.41,523.47 L222.12,516.26 L223.92,505.45 L225.72,498.24 L227.52,487.43 L229.32,476.62 L231.13,471.22 L232.39,469.05 L233.83,474.82 L235.27,491.04 L236.53,507.25 L237.79,521.67 L239.23,529.77 L241.04,532.84" fill="none" stroke="#a8a8a8" stroke-width="0.7"/>
<path d="M208.24,462.21 L208.24,527.07" fill="none" stroke="#f08080" stroke-width="0.8"/>
<path d="M208.60,532.48 L215.81,531.58 L223.02,528.87 L228.42,523.47 L232.03,516.26 L234.73,505.45 L237.43,491.04 L239.23,482.03 L241.04,473.02 L242.30,468.51 L243.20,467.25 L244.28,469.41 L246.08,480.23 L247.88,494.64 L249.68,509.05 L251.49,521.67 L253.29,528.87 L255.45,532.12 L258.15,532.84" fill="none" stroke="#2020ff" stroke-width="0.9"/>
<path d="M208.24,527.07 L212.21,524.37 L215.81,520.77 L218.51,514.46 L221.22,509.05 L223.02,501.85 L224.82,497.34 L227.52,491.04 L229.32,483.83 L231.13,477.52 L232.93,474.82 L234.37,472.12 L235.63,478.42 L237.43,487.43 L239.23,491.04 L241.04,501.85 L242.84,510.86 L245.54,521.67 L248.24,527.07 L250.95,530.68 L253.65,532.84" fill="none" stroke="#ff2020" stroke-width="0.9"/>
<line x1="203.90" y1="533.50" x2="203.90" y2="461.00" stroke="#222" stroke-width="1.3"/>
<path d="M201.50,462.10 L203.90,457.50 L206.30,462.10 Z" fill="#000"/>
<line x1="208.80" y1="535.70" x2="278.00" y2="535.70" stroke="#222" stroke-width="1.3"/>
<path d="M276.90,533.40 L281.50,535.70 L276.90,538.00 Z" fill="#000"/>
<text x="215.00" y="546.10" font-size="8.1" text-anchor="start">CD70</text>
<text transform="translate(201.20,528.0) rotate(-90)" font-size="7.9">Count</text>
<rect x="301.50" y="457.50" width="75.90" height="75.50" fill="none" stroke="#cfcfcf" stroke-width="0.8"/>
<path d="M301.70,532.12 L308.01,528.87 L313.41,519.86 L316.12,512.66 L317.92,503.65 L319.72,500.05 L321.52,491.04 L323.32,478.42 L324.59,473.02 L325.67,469.41 L326.93,474.82 L328.19,485.63 L329.63,500.05 L331.07,514.46 L332.33,525.27 L334.14,531.58 L335.94,532.84 L335.94,533.00 L301.70,533.00 Z" fill="#e6e6e6" stroke="none"/>
<path d="M301.70,532.12 L308.01,528.87 L313.41,519.86 L316.12,512.66 L317.92,503.65 L319.72,500.05 L321.52,491.04 L323.32,478.42 L324.59,473.02 L325.67,469.41 L326.93,474.82 L328.19,485.63 L329.63,500.05 L331.07,514.46 L332.33,525.27 L334.14,531.58 L335.94,532.84" fill="none" stroke="#a8a8a8" stroke-width="0.7"/>
<path d="M301.34,462.21 L301.34,530.68" fill="none" stroke="#f08080" stroke-width="0.8"/>
<path d="M301.70,530.68 L304.41,527.97 L308.01,525.27 L311.61,522.57 L315.22,516.26 L317.92,509.05 L320.62,503.65 L323.32,494.64 L325.13,489.23 L326.93,483.83 L328.37,480.23 L329.27,475.72 L331.07,477.52 L332.33,474.82 L333.59,477.52 L335.04,474.82 L336.30,473.02 L337.74,475.72 L339.54,481.13 L342.24,487.43 L344.95,494.64 L346.75,501.85 L349.45,510.86 L352.15,521.67 L354.86,528.87 L357.56,532.12 L360.26,532.84" fill="none" stroke="#2020ff" stroke-width="0.9"/>
<path d="M301.70,531.58 L309.81,528.87 L317.02,526.17 L322.42,521.67 L327.83,516.26 L331.43,510.86 L334.14,503.65 L336.84,496.44 L338.28,493.74 L339.54,489.23 L341.34,480.23 L342.24,475.72 L343.68,472.12 L344.95,466.71 L345.85,465.81 L346.75,468.51 L348.01,465.45 L349.45,471.22 L350.89,482.03 L352.15,491.04 L353.95,501.85 L355.76,512.66 L357.56,523.47 L359.36,530.68 L362.06,532.84" fill="none" stroke="#ff2020" stroke-width="0.9"/>
<line x1="298.70" y1="533.50" x2="298.70" y2="461.00" stroke="#222" stroke-width="1.3"/>
<path d="M296.30,462.10 L298.70,457.50 L301.10,462.10 Z" fill="#000"/>
<line x1="303.60" y1="535.70" x2="372.20" y2="535.70" stroke="#222" stroke-width="1.3"/>
<path d="M371.10,533.40 L375.70,535.70 L371.10,538.00 Z" fill="#000"/>
<text x="310.20" y="546.10" font-size="8.1" text-anchor="start">PD-L1</text>
<text transform="translate(296.30,528.0) rotate(-90)" font-size="7.9">Count</text>
<line x1="380.00" y1="461.00" x2="385.60" y2="461.00" stroke="#888" stroke-width="1.2"/>
<text x="387.30" y="463.20" font-size="7.9" text-anchor="start">Isotype</text>
<line x1="380.00" y1="470.50" x2="385.60" y2="470.50" stroke="#2020ff" stroke-width="1.2"/>
<text x="387.30" y="472.70" font-size="7.9" text-anchor="start">HGF 0ng/mL</text>
<line x1="380.00" y1="480.20" x2="385.60" y2="480.20" stroke="#ff2020" stroke-width="1.2"/>
<text x="387.30" y="482.40" font-size="7.9" text-anchor="start">HGF 100ng/mL</text>
</svg>
</body></html>
